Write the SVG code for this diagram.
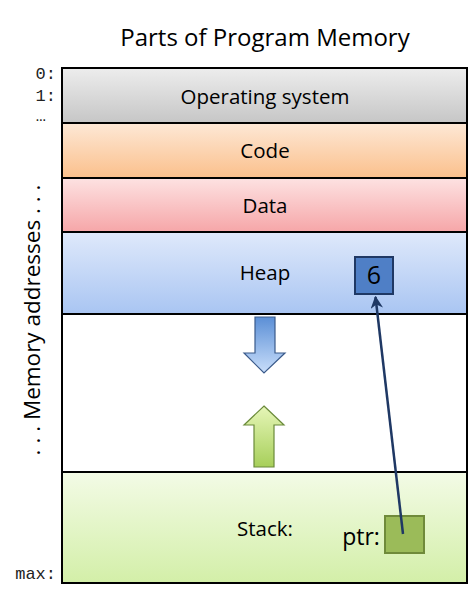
<svg xmlns="http://www.w3.org/2000/svg" width="474" height="594" viewBox="0 0 474 594">
<defs>
<linearGradient id="gOS" x1="0" y1="0" x2="0" y2="1"><stop offset="0" stop-color="#ededed"/><stop offset="1" stop-color="#c6c6c6"/></linearGradient>
<linearGradient id="gCode" x1="0" y1="0" x2="0" y2="1"><stop offset="0" stop-color="#fde8d6"/><stop offset="1" stop-color="#fbc08c"/></linearGradient>
<linearGradient id="gData" x1="0" y1="0" x2="0" y2="1"><stop offset="0" stop-color="#fde2e2"/><stop offset="1" stop-color="#f6a6a8"/></linearGradient>
<linearGradient id="gHeap" x1="0" y1="0" x2="0" y2="1"><stop offset="0" stop-color="#dfe9fb"/><stop offset="1" stop-color="#a9c5f2"/></linearGradient>
<linearGradient id="gStack" x1="0" y1="0" x2="0" y2="1"><stop offset="0" stop-color="#f3fbe6"/><stop offset="1" stop-color="#d3efa8"/></linearGradient>
<linearGradient id="gBlue" x1="0" y1="0" x2="0" y2="1"><stop offset="0" stop-color="#5b8fd6"/><stop offset="1" stop-color="#c9defa"/></linearGradient>
<linearGradient id="gGreen" x1="0" y1="0" x2="0" y2="1"><stop offset="0" stop-color="#e6f6b8"/><stop offset="1" stop-color="#a7cf5a"/></linearGradient>
<marker id="ah" viewBox="0 0 10 10" refX="9" refY="5" markerWidth="5" markerHeight="5" orient="auto-start-reverse"><path d="M0,0 L10,5 L0,10 L3,5 Z" fill="#1f3864"/></marker>
</defs>
<style>
.lbl{font-family:"Open Sans","Liberation Sans",sans-serif;font-size:20.5px;fill:#000;text-anchor:middle}
.addr{font-family:"Liberation Mono",monospace;font-size:17px;fill:#222;text-anchor:end}
.sec{stroke:#000;stroke-width:2}
</style>
<rect width="474" height="594" fill="#fff"/>
<text x="265" y="46" class="lbl" style="font-size:24px">Parts of Program Memory</text>
<g id="addresses">
<text x="56" y="79" class="addr">0:</text>
<text x="56" y="101" class="addr">1:</text>
<text x="46" y="121" class="addr">…</text>
<text x="56" y="579" class="addr">max:</text>
<text transform="translate(40,320) rotate(-90)" class="lbl" style="font-size:22.5px">. . . Memory addresses . . .</text>
</g>
<g id="os"><rect x="62" y="68" width="405" height="55" fill="url(#gOS)" class="sec"/><text x="265" y="104" class="lbl">Operating system</text></g>
<g id="code"><rect x="62" y="123" width="405" height="55" fill="url(#gCode)" class="sec"/><text x="265" y="158" class="lbl">Code</text></g>
<g id="data"><rect x="62" y="178" width="405" height="54" fill="url(#gData)" class="sec"/><text x="265" y="213" class="lbl">Data</text></g>
<g id="heap"><rect x="62" y="232" width="405" height="82" fill="url(#gHeap)" class="sec"/><text x="265" y="280" class="lbl">Heap</text></g>
<g id="free"><rect x="62" y="314" width="405" height="158" fill="#fff" class="sec"/>
<path d="M255,317 H275 V353 H285 L264,373 L244,353 H255 Z" fill="url(#gBlue)" stroke="#3a5a8a" stroke-width="1.2"/>
<path d="M264,406 L284,425 H274 V467 H254 V425 H244 Z" fill="url(#gGreen)" stroke="#6a8a3a" stroke-width="1.2"/>
</g>
<g id="stack"><rect x="62" y="472" width="405" height="111" fill="url(#gStack)" class="sec"/><text x="265" y="536" class="lbl">Stack:</text></g>
<g id="val6"><rect x="355" y="257" width="38" height="37" fill="#4f7fc6" stroke="#1f3864" stroke-width="2"/><text x="374" y="284" class="lbl" style="font-size:25px">6</text></g>
<g id="ptr"><text x="361" y="545" class="lbl" style="font-size:23px">ptr:</text><rect x="385" y="516" width="39" height="37" fill="#9bbb59" stroke="#6f8a3a" stroke-width="2"/></g>
<g id="connectors"><line x1="403" y1="534" x2="375.5" y2="297" stroke="#1f3864" stroke-width="2.5" marker-end="url(#ah)"/></g>
</svg>
